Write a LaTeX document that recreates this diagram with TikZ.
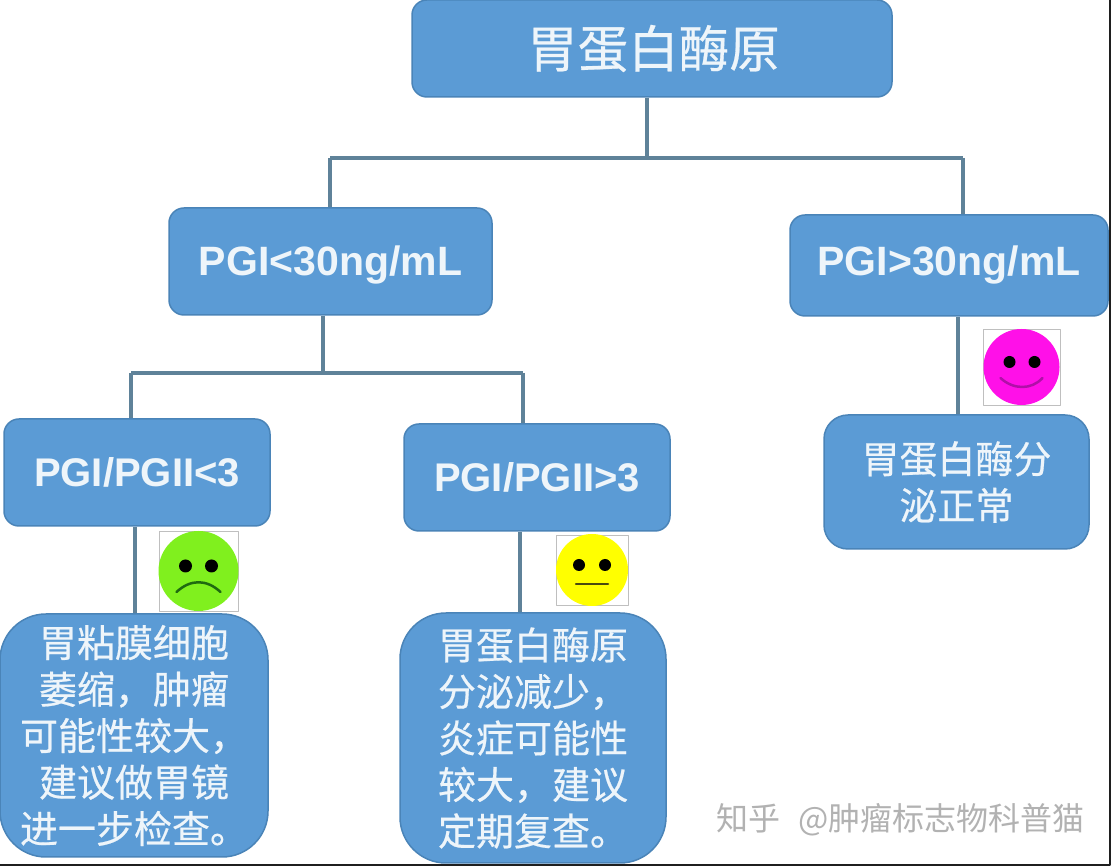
\documentclass[tikz,border=0pt]{standalone}
\usepackage{fontspec}
\setmainfont{Liberation Sans}
\newfontfamily\cjk[FakeBold=0.5]{Noto Sans CJK SC}
\newfontfamily\cjkmark{Noto Sans CJK SC}
\usepackage{tikz}
\usetikzlibrary{positioning,calc}
\definecolor{boxblue}{HTML}{5B9BD5}
\definecolor{boxedge}{HTML}{4A84B8}
\definecolor{linkgray}{HTML}{5F8299}
\definecolor{boxtext}{HTML}{EEF5FA}
\definecolor{sadgreen}{HTML}{80F01E}
\definecolor{sadline}{HTML}{1F6A10}
\definecolor{flatyellow}{HTML}{FFFF00}
\definecolor{flatline}{HTML}{4A4A10}
\definecolor{happypink}{HTML}{FF10E8}
\definecolor{happyline}{HTML}{B010A8}
\tikzset{
  box/.style={draw=boxedge,line width=1.5bp,fill=boxblue,text=boxtext,rounded corners=15bp,inner sep=0pt},
  link/.style={draw=linkgray,line width=3.5bp},
  pgfont/.style={font=\bfseries\fontsize{40bp}{44bp}\selectfont,text height=33bp,text depth=4bp},
  cnfont/.style={font=\cjk\fontsize{38bp}{46.5bp}\selectfont},
  faceframe/.style={draw=black!25,line width=.8bp,inner sep=0pt},
  head/.style={circle,inner sep=0pt},
  eye/.style={circle,fill=black,inner sep=0pt,minimum size=13bp},
  mouth/.style={line width=2.5bp,line cap=round},
}
\begin{document}
\begin{tikzpicture}[line join=bevel,]
%%
\useasboundingbox (0bp,0bp) rectangle (1111bp,866bp);
\fill [white] (0bp,0bp) rectangle (1111bp,866bp);
%% boxes
\node (pgn) at (652bp,817.5bp) [box,minimum width=480bp,minimum height=97bp,font=\cjk\fontsize{50.5bp}{56bp}\selectfont] {\hspace{3bp}胃蛋白酶原};
  \node (low) at (330.5bp,604.5bp) [box,pgfont,font=\bfseries\fontsize{41bp}{44bp}\selectfont,minimum width=323bp,minimum height=107bp] {PGI<30ng/mL};
  \node (high) at (949bp,600.5bp) [box,pgfont,font=\bfseries\fontsize{41bp}{44bp}\selectfont,text depth=12bp,minimum width=318bp,minimum height=101bp] {PGI>30ng/mL};
  \node (lowratio) at (137bp,393.5bp) [box,pgfont,minimum width=266bp,minimum height=107bp] {PGI/PGII<3};
  \node (highratio) at (537bp,388.5bp) [box,pgfont,minimum width=266bp,minimum height=107bp] {PGI/PGII>3};
  \node (normal) at (956.5bp,384bp) [box,rounded corners=24bp,cnfont,align=center,minimum width=265bp,minimum height=134bp] {胃蛋白酶分\\泌正常};
  \node (atrophy) at (134bp,130.5bp) [box,rounded corners=46bp,cnfont,align=center,minimum width=268bp,minimum height=243bp] {胃粘膜细胞\\萎缩，肿瘤\\可能性较大，\\建议做胃镜\\进一步检查。};
  \node (inflam) at (533bp,128bp) [box,rounded corners=46bp,cnfont,align=left,minimum width=266bp,minimum height=250bp] {胃蛋白酶原\\分泌减少，\\炎症可能性\\较大，建议\\定期复查。};
%% junctions
  \coordinate (topjoint) at (647bp,708bp);
  \coordinate (topleft) at (330bp,708bp);
  \coordinate (topright) at (963bp,708bp);
  \coordinate (lowjoint) at (323bp,493bp);
  \coordinate (lowleft) at (131bp,493bp);
  \coordinate (lowright) at (523bp,493bp);
  \coordinate (atrophyline) at (135bp,340bp);
  \coordinate (inflamline) at (520bp,335bp);
  \coordinate (normalline) at (958bp,550bp);
%% connectors
  \draw [link] (pgn.south -| topjoint) -- (topjoint);
  \draw [link] (topleft) -- (topright);
  \draw [link] (topleft) -- (topleft |- low.north);
  \draw [link] (topright) -- (topright |- high.north);
  \draw [link] (low.south -| lowjoint) -- (lowjoint);
  \draw [link] (lowleft) -- (lowright);
  \draw [link] (lowleft) -- (lowleft |- lowratio.north);
  \draw [link] (lowright) -- (lowright |- highratio.north);
  \draw [link] (lowratio.south -| atrophyline) -- (atrophy.north -| atrophyline);
  \draw [link] (highratio.south -| inflamline) -- (inflam.north -| inflamline);
  \draw [link] (high.south -| normalline) -- (normal.north -| normalline);
%% faces
\node (sadframe) at (198.5bp,295bp) [faceframe,minimum width=79bp,minimum height=80bp] {};
  \node (sad) at (sadframe) [head,fill=sadgreen,minimum size=80bp] {};
  \node at ($(sad)+(-13bp,5bp)$) [eye] {};
  \node at ($(sad)+(13bp,5bp)$) [eye] {};
  \draw [mouth,draw=sadline] ($(sad)+(-22bp,-21bp)$) ..controls ($(sad)+(-8bp,-8bp)$) and ($(sad)+(8bp,-8bp)$) .. ($(sad)+(22bp,-21bp)$);
\node (flatframe) at (592bp,296bp) [faceframe,minimum width=72bp,minimum height=70bp] {};
  \node (flat) at (flatframe) [head,fill=flatyellow,minimum size=72bp] {};
  \node at ($(flat)+(-13bp,5bp)$) [eye,minimum size=12bp] {};
  \node at ($(flat)+(13bp,5bp)$) [eye,minimum size=12bp] {};
  \draw [mouth,draw=flatline] ($(flat)+(-16bp,-14bp)$) -- ($(flat)+(16bp,-14bp)$);
\node (happyframe) at (1021.5bp,499bp) [faceframe,minimum width=77bp,minimum height=76bp] {};
  \node (happy) at (happyframe) [head,fill=happypink,minimum size=76bp] {};
  \node at ($(happy)+(-12bp,5bp)$) [eye,minimum size=12bp] {};
  \node at ($(happy)+(13bp,5bp)$) [eye,minimum size=12bp] {};
  \draw [mouth,draw=happyline] ($(happy)+(-21bp,-11bp)$) ..controls ($(happy)+(-8bp,-23bp)$) and ($(happy)+(10bp,-23bp)$) .. ($(happy)+(21bp,-11bp)$);
%% watermark
\node (mark) at (900.5bp,46bp) [text=black!30,font=\cjkmark\fontsize{32bp}{36bp}\selectfont,inner sep=0pt] {知乎\hspace{11bp} @肿瘤标志物科普猫};
%% image edge
  \coordinate (cornerleft) at (0bp,1bp);
  \coordinate (cornerright) at (1110bp,1bp);
  \coordinate (cornertop) at (1110bp,866bp);
  \draw [draw=black!88,line width=2bp] (cornerleft) -- (cornerright) -- (cornertop);
%
\end{tikzpicture}
\end{document}
